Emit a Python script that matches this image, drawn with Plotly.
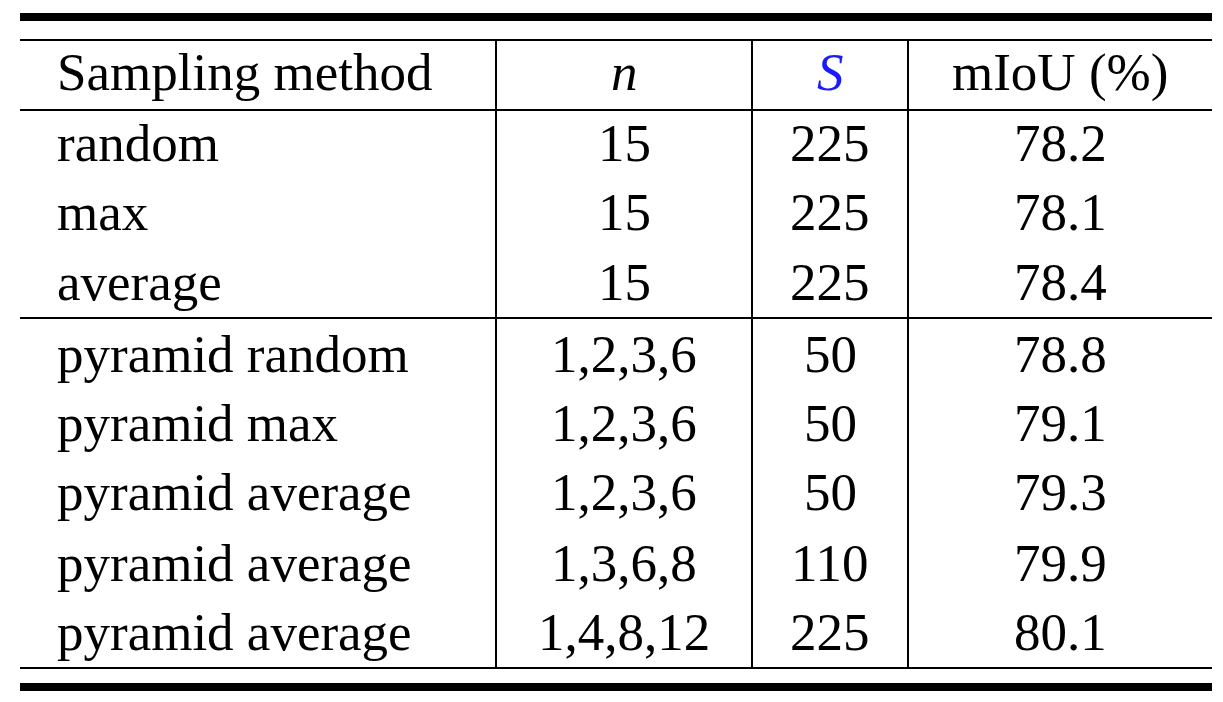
import plotly.graph_objects as go

header = ["Sampling method", "<i>n</i>", "<span style='color:#1a1aff'><i>S</i></span>", "mIoU (%)"]
methods = ["random", "max", "average", "pyramid random", "pyramid max",
           "pyramid average", "pyramid average", "pyramid average"]
n_vals = ["15", "15", "15", "1,2,3,6", "1,2,3,6", "1,2,3,6", "1,3,6,8", "1,4,8,12"]
s_vals = ["225", "225", "225", "50", "50", "50", "110", "225"]
miou = ["78.2", "78.1", "78.4", "78.8", "79.1", "79.3", "79.9", "80.1"]

W, H = 1223, 702
OFF = 8  # page body margin
row_y = [143, 212, 282, 354, 423, 492, 563, 632]
header_y = 72
col_x = [55, 624, 830, 1060]
col_anchor = ["left", "center", "center", "center"]
font = dict(family="Liberation Serif, Times New Roman, serif", size=53, color="black")

fig = go.Figure()
fig.add_trace(go.Scatter(x=[0, W], y=[0, H], mode="markers", marker=dict(opacity=0), hoverinfo="skip"))

ann = []
for j, h in enumerate(header):
    ann.append(dict(x=col_x[j], y=header_y, text=h, xanchor=col_anchor[j], yanchor="middle", showarrow=False, font=font))
for i, row in enumerate(zip(methods, n_vals, s_vals, miou)):
    for j, v in enumerate(row):
        ann.append(dict(x=col_x[j], y=row_y[i], text=v, xanchor=col_anchor[j], yanchor="middle", showarrow=False, font=font))

shapes = []
L, R = 20, 1212
def hline(y, w):
    shapes.append(dict(type="line", x0=L, x1=R, y0=y, y1=y, line=dict(color="black", width=w)))
hline(17, 8); hline(40, 2); hline(110, 2); hline(318, 2); hline(668, 2); hline(687, 8)
for x in [496, 752, 908]:
    shapes.append(dict(type="line", x0=x, x1=x, y0=40, y1=668, line=dict(color="black", width=2)))

fig.update_layout(width=W, height=H, margin=dict(l=0, r=0, t=0, b=0),
                  paper_bgcolor="white", plot_bgcolor="white", showlegend=False,
                  xaxis=dict(range=[OFF, W + OFF], visible=False, fixedrange=True),
                  yaxis=dict(range=[H + OFF, OFF], visible=False, fixedrange=True),
                  annotations=ann, shapes=shapes)
fig.write_html("out.html")
